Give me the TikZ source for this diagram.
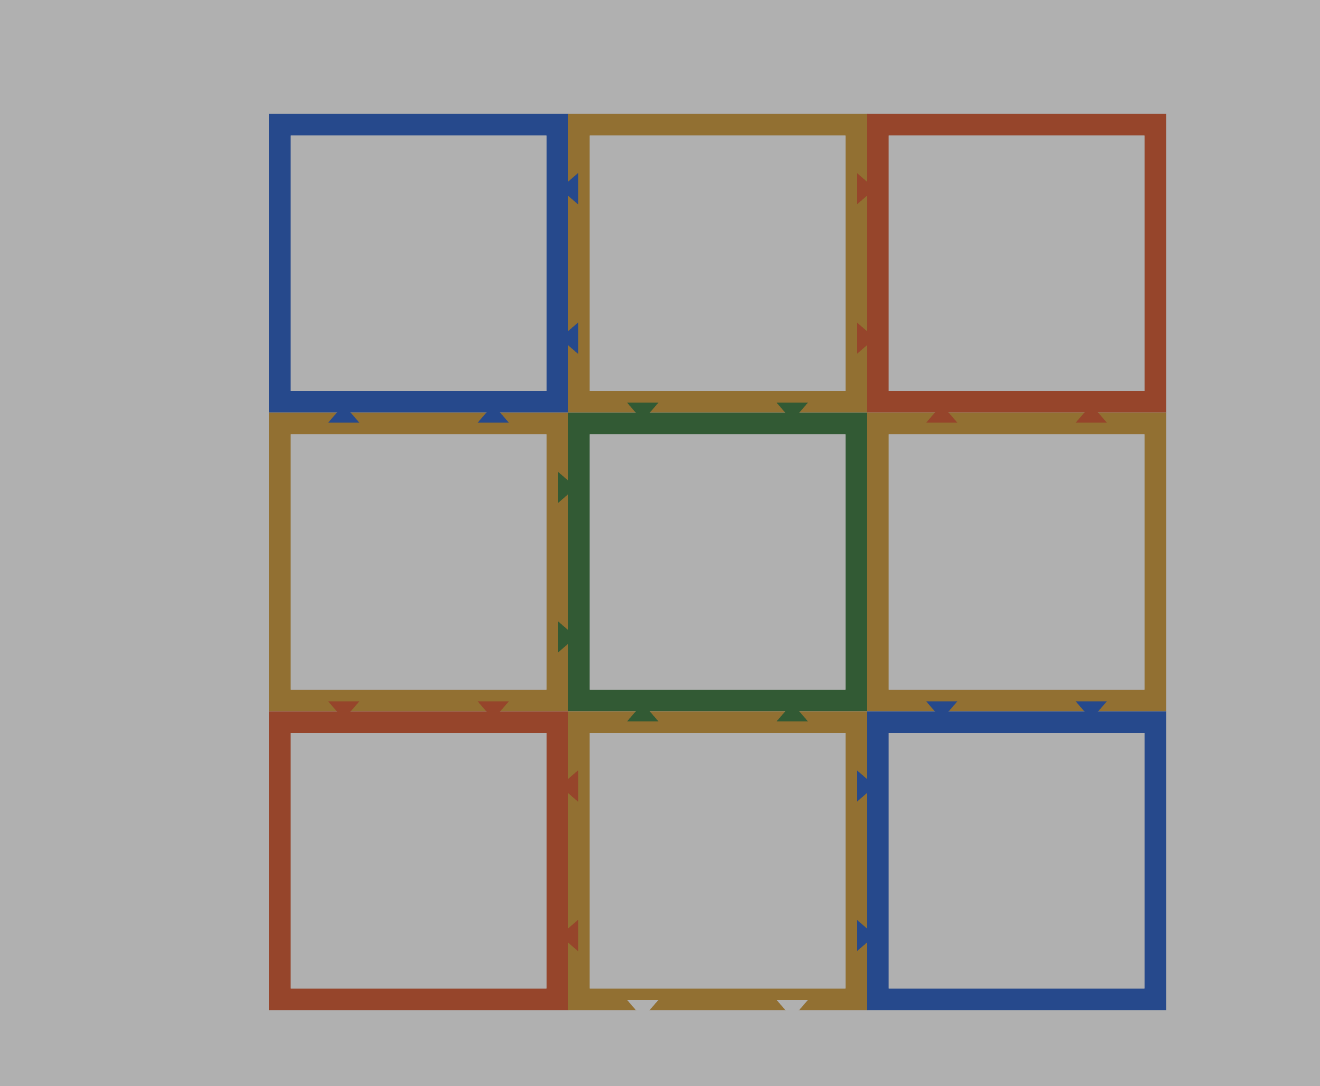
\documentclass[tikz,border=0pt]{standalone}
\definecolor{cblue}{RGB}{38,73,140}
\definecolor{cbrown}{RGB}{146,112,50}
\definecolor{cred}{RGB}{150,69,43}
\definecolor{cgreen}{RGB}{50,90,52}
\definecolor{bggray}{RGB}{176,176,176}
% dovetail: colour, centre x, centre y, direction x, direction y
\newcommand\dovetail[5]{%
  \fill[#1] ({#2-6*(#5)-(#4)},{#3+6*(#4)-(#5)})
    -- ({#2+6*(#5)-(#4)},{#3-6*(#4)-(#5)})
    -- ({#2+15.5*(#5)+10*(#4)},{#3-15.5*(#4)+10*(#5)})
    -- ({#2-15.5*(#5)+10*(#4)},{#3+15.5*(#4)+10*(#5)}) -- cycle;}
\begin{document}
\begin{tikzpicture}[x=1pt,y=-1pt]
\fill[bggray] (0,0) rectangle (1320,1086);
\useasboundingbox (0,0) rectangle (1320,1086);
% frames
\foreach \c/\r/\col in {0/0/cblue,1/0/cbrown,2/0/cred,
                        0/1/cbrown,1/1/cgreen,2/1/cbrown,
                        0/2/cred,1/2/cbrown,2/2/cblue}{
  \pgfmathsetmacro\xa{269+299*\c}
  \pgfmathsetmacro\ya{114+298.67*\r}
  \fill[\col, even odd rule] (\xa,\ya) rectangle ++(299,298.67)
     ({\xa+21.5},{\ya+21.5}) rectangle ++(256,255.67);
}
% top-left blue
\dovetail{cblue}{568}{188.7}{1}{0}
\dovetail{cblue}{568}{338.2}{1}{0}
\dovetail{cblue}{343.75}{412.7}{0}{1}
\dovetail{cblue}{493.25}{412.7}{0}{1}
% top-right red
\dovetail{cred}{867}{188.7}{-1}{0}
\dovetail{cred}{867}{338.2}{-1}{0}
\dovetail{cred}{941.75}{412.7}{0}{1}
\dovetail{cred}{1091.25}{412.7}{0}{1}
% centre green
\dovetail{cgreen}{642.75}{412.7}{0}{-1}
\dovetail{cgreen}{792.25}{412.7}{0}{-1}
\dovetail{cgreen}{568}{487.4}{-1}{0}
\dovetail{cgreen}{568}{636.9}{-1}{0}
\dovetail{cgreen}{642.75}{711.3}{0}{1}
\dovetail{cgreen}{792.25}{711.3}{0}{1}
% bottom-left red
\dovetail{cred}{343.75}{711.3}{0}{-1}
\dovetail{cred}{493.25}{711.3}{0}{-1}
\dovetail{cred}{568}{786}{1}{0}
\dovetail{cred}{568}{935.5}{1}{0}
% bottom-right blue
\dovetail{cblue}{941.75}{711.3}{0}{-1}
\dovetail{cblue}{1091.25}{711.3}{0}{-1}
\dovetail{cblue}{867}{786}{-1}{0}
\dovetail{cblue}{867}{935.5}{-1}{0}
% empty slots on the bottom-middle frame
\dovetail{bggray}{642.75}{1010}{0}{-1}
\dovetail{bggray}{792.25}{1010}{0}{-1}
\end{tikzpicture}
\end{document}
